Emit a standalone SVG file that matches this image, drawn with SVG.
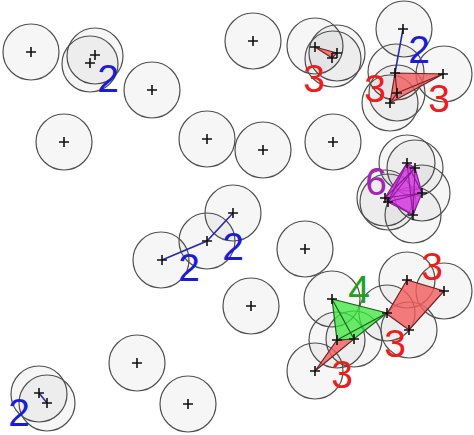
<svg xmlns="http://www.w3.org/2000/svg" width="474" height="435" viewBox="0 0 474 435">
<defs>
<style>
.c{fill:#000;fill-opacity:0.035;stroke:#505050;stroke-width:1.2}
.x{stroke:#111;stroke-width:1.6;fill:none}
.t{font-family:"Liberation Sans",Arial,sans-serif;font-size:39px;text-anchor:middle}
.bl{fill:#1c1cd8}.rd{fill:#ee1c1c}.gr{fill:#22a022}.pu{fill:#a424b4}
.bline{stroke:#2a2aa8;stroke-width:1.6;fill:none}
.rp{fill:#f45c5c;fill-opacity:0.8;stroke:#702020;stroke-width:1.2}
.rl{fill:none;stroke:#702020;stroke-width:1.2}
.gp{fill:#3ae83a;fill-opacity:0.75;stroke:#1e5e1e;stroke-width:1.2}
.gl{fill:none;stroke:#1e5e1e;stroke-width:1.2}
.pp{fill:#d838e0;fill-opacity:0.85;stroke:#8a1a9a;stroke-width:1.2}
.pl{fill:none;stroke:#8a1a9a;stroke-width:1.1}
</style>
<path id="p" d="M-5 0H5M0 -5V5" class="x"/>
</defs>
<rect width="474" height="435" fill="#fff"/>
<g id="circles">
<circle class="c" cx="31" cy="52" r="28"/>
<circle class="c" cx="95" cy="56" r="28"/>
<circle class="c" cx="90" cy="64" r="28"/>
<circle class="c" cx="152" cy="90" r="28"/>
<circle class="c" cx="64" cy="142" r="28"/>
<circle class="c" cx="207" cy="139" r="28"/>
<circle class="c" cx="263" cy="150" r="28"/>
<circle class="c" cx="333" cy="142" r="28"/>
<circle class="c" cx="253" cy="41" r="28"/>
<circle class="c" cx="315" cy="46" r="28"/>
<circle class="c" cx="337" cy="53" r="28"/>
<circle class="c" cx="333" cy="59" r="28"/>
<circle class="c" cx="404" cy="29" r="28"/>
<circle class="c" cx="396" cy="72" r="28"/>
<circle class="c" cx="444" cy="74" r="28"/>
<circle class="c" cx="390" cy="103" r="28"/>
<circle class="c" cx="397" cy="93" r="28"/>
<circle class="c" cx="407" cy="163" r="28"/>
<circle class="c" cx="415" cy="168" r="28"/>
<circle class="c" cx="385" cy="198" r="28"/>
<circle class="c" cx="388" cy="202" r="28"/>
<circle class="c" cx="422" cy="193" r="28"/>
<circle class="c" cx="413" cy="215" r="28"/>
<circle class="c" cx="161" cy="260" r="28"/>
<circle class="c" cx="207" cy="241" r="28"/>
<circle class="c" cx="233" cy="213" r="28"/>
<circle class="c" cx="305" cy="249" r="28"/>
<circle class="c" cx="251" cy="306" r="28"/>
<circle class="c" cx="137" cy="363" r="28"/>
<circle class="c" cx="188" cy="404" r="28"/>
<circle class="c" cx="39" cy="394" r="28"/>
<circle class="c" cx="47" cy="403" r="28"/>
<circle class="c" cx="332" cy="299" r="28"/>
<circle class="c" cx="387" cy="313" r="28"/>
<circle class="c" cx="337" cy="340" r="28"/>
<circle class="c" cx="354" cy="339" r="28"/>
<circle class="c" cx="315" cy="371" r="28"/>
<circle class="c" cx="407" cy="280" r="28"/>
<circle class="c" cx="444" cy="291" r="28"/>
<circle class="c" cx="409" cy="330" r="28"/>
</g>
<g id="connectors">
<polygon class="rp" points="315,47 337,53 332,58"/>
<line class="bline" x1="403" y1="29" x2="395" y2="73"/>
<polygon class="rp" points="395,73 443,74 390,103"/>
<path class="rl" d="M395,73L397,93L443,74M397,93L390,103"/>
<polygon class="pp" points="407,163 415,168 422,193 413,215 388,202 385,198"/>
<path class="pl" d="M407,163L413,215M407,163L388,202M407,163L422,193M415,168L385,198M415,168L413,215M415,168L388,202M422,193L385,198M422,193L388,202M413,215L385,198"/>
<polyline class="bline" points="162,260 207,241 233,213"/>
<line class="bline" x1="39" y1="393" x2="47" y2="403"/>
<polygon class="rp" points="315,371 337,340 354,339"/>
<polygon class="gp" points="332,299 387,313 354,339 337,340"/>
<path class="gl" d="M332,299L354,339M387,313L337,340"/>
<polygon class="rp" points="387,314 407,280 444,291 409,330"/>
</g>
<g id="points">
<use href="#p" x="31" y="52"/>
<use href="#p" x="95" y="55"/>
<use href="#p" x="90" y="63"/>
<use href="#p" x="152" y="90"/>
<use href="#p" x="64" y="142"/>
<use href="#p" x="207" y="139"/>
<use href="#p" x="263" y="150"/>
<use href="#p" x="333" y="142"/>
<use href="#p" x="253" y="41"/>
<use href="#p" x="315" y="47"/>
<use href="#p" x="337" y="53"/>
<use href="#p" x="332" y="58"/>
<use href="#p" x="403" y="29"/>
<use href="#p" x="395" y="73"/>
<use href="#p" x="443" y="74"/>
<use href="#p" x="390" y="103"/>
<use href="#p" x="397" y="93"/>
<use href="#p" x="407" y="163"/>
<use href="#p" x="415" y="168"/>
<use href="#p" x="385" y="198"/>
<use href="#p" x="388" y="202"/>
<use href="#p" x="422" y="193"/>
<use href="#p" x="413" y="215"/>
<use href="#p" x="162" y="260"/>
<use href="#p" x="207" y="241"/>
<use href="#p" x="233" y="213"/>
<use href="#p" x="305" y="249"/>
<use href="#p" x="251" y="306"/>
<use href="#p" x="137" y="363"/>
<use href="#p" x="188" y="404"/>
<use href="#p" x="39" y="393"/>
<use href="#p" x="47" y="403"/>
<use href="#p" x="332" y="299"/>
<use href="#p" x="387" y="313"/>
<use href="#p" x="337" y="340"/>
<use href="#p" x="354" y="339"/>
<use href="#p" x="315" y="371"/>
<use href="#p" x="407" y="280"/>
<use href="#p" x="444" y="291"/>
<use href="#p" x="409" y="330"/>
</g>
<g id="labels">
<text class="t bl" x="108" y="92">2</text>
<text class="t rd" x="314" y="92">3</text>
<text class="t bl" x="419" y="63">2</text>
<text class="t rd" x="375" y="102">3</text>
<text class="t rd" x="439" y="112">3</text>
<text class="t pu" x="376" y="195">6</text>
<text class="t bl" x="189" y="281">2</text>
<text class="t bl" x="233" y="260">2</text>
<text class="t bl" x="19" y="426">2</text>
<text class="t gr" x="359" y="303">4</text>
<text class="t rd" x="342" y="388">3</text>
<text class="t rd" x="432" y="280">3</text>
<text class="t rd" x="395" y="357">3</text>
</g>
</svg>
